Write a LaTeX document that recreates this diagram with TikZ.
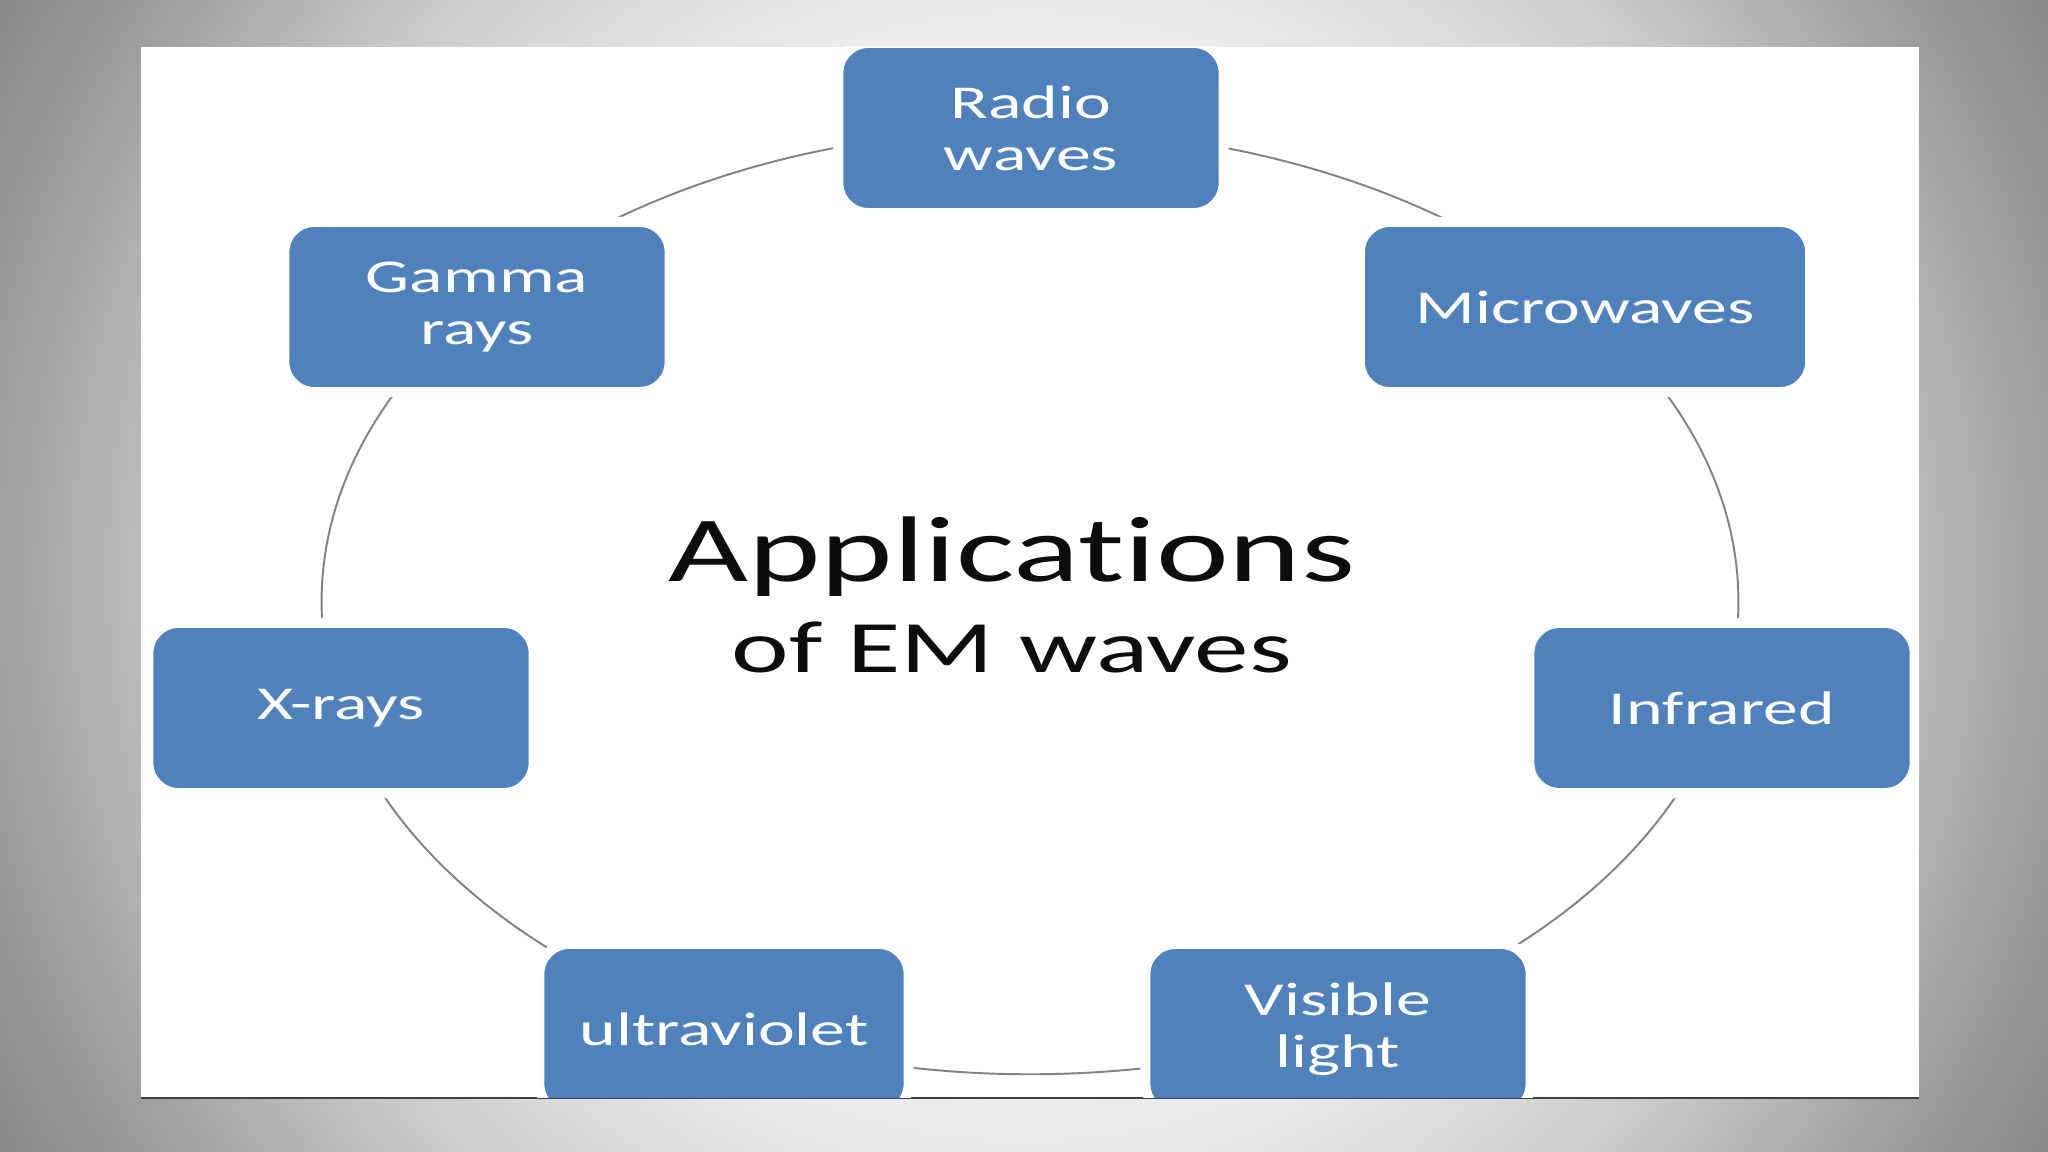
\documentclass[tikz,border=0pt]{standalone}
\usepackage{fontspec}
\setmainfont[FakeStretch=1.48, Ligatures=NoCommon]{Carlito}
\usepackage{tikz}
\usetikzlibrary{positioning, calc}
\usepackage{xcolor}

\definecolor{boxblue}{RGB}{79,129,189}
\definecolor{ringgray}{RGB}{130,130,130}
\definecolor{bgA}{RGB}{244,244,244}
\definecolor{bgB}{RGB}{236,236,236}
\definecolor{bgC}{RGB}{205,205,205}
\definecolor{bgD}{RGB}{158,158,158}
\definecolor{bgE}{RGB}{136,136,136}
\pgfdeclareradialshading{slideshade}{\pgfpoint{0bp}{0bp}}{%
  color(0bp)=(bgA); color(12bp)=(bgB); color(17bp)=(bgC);
  color(22bp)=(bgD); color(25bp)=(bgE); color(50bp)=(bgE)}

\begin{document}
\begin{tikzpicture}[
    x=0.01cm, y=0.01cm,
    wave/.style={draw=white, line width=0.1cm, fill=boxblue, rounded corners=0.3cm,
      text=white, align=center, inner sep=0pt,
      minimum width=3.85cm, minimum height=1.7cm,
      font=\fontsize{13.4}{14.8}\selectfont},
    ring/.style={draw=ringgray, line width=0.55pt}
]

% Slide
\useasboundingbox (0,0) rectangle (2048,1152);
\begin{scope}
  \clip (0,0) rectangle (2048,1152);
  \shade[shading=slideshade] (-151,-599) rectangle (2199,1751);
\end{scope}
\fill[white] (141,54) rectangle (1919,1105);
\draw[black!75, line width=0.8pt] (141,54) -- (1919,54);

% Ring
\coordinate (hub) at (1030,550);
\draw[ring] (hub) ellipse [x radius=7.08cm, y radius=4.72cm];

% Nodes
\node[font=\fontsize{26.5}{25.8}\selectfont, align=center, text=black!95] (title) at (1012,557)
  {Applications\\{\fontsize{21}{25.8}\selectfont of EM waves}};

\begin{scope}
  \clip (141,54) rectangle (1919,1105);
  \node[wave] (radio) at (1031,1024) {Radio\\waves};
  \node[wave, minimum width=4.5cm] (micro) at (1585,845) {Microwaves};
  \node[wave] (infrared) at (1722,444) {Infrared};
  \node[wave] (visible) at (1338,123) {Visible\\light};
  \node[wave, minimum width=3.69cm] (uv) at (724,123) {ultraviolet};
  \node[wave] (xrays) at (341,444) {X-rays};
  \node[wave] (gamma) at (477,845) {Gamma\\rays};
\end{scope}

\end{tikzpicture}
\end{document}
